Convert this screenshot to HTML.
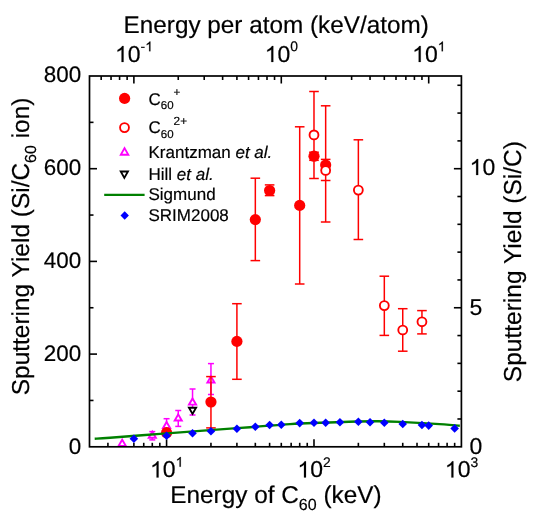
<!DOCTYPE html><html><head><meta charset="utf-8"><style>html,body{margin:0;padding:0;background:#fff;}svg{display:block;will-change:transform;}text{font-family:"Liberation Sans",sans-serif;text-rendering:geometricPrecision;stroke:#000;stroke-width:0.18px;stroke-linejoin:round;}</style></head><body>
<svg width="550" height="524" viewBox="0 0 550 524">
<rect width="550" height="524" fill="#fff"/>
<g stroke="#000" stroke-width="1.6" fill="none">
<line x1="107.92" y1="446.80" x2="107.92" y2="442.80"/>
<line x1="122.20" y1="446.80" x2="122.20" y2="442.80"/>
<line x1="133.88" y1="446.80" x2="133.88" y2="442.80"/>
<line x1="143.74" y1="446.80" x2="143.74" y2="442.80"/>
<line x1="152.29" y1="446.80" x2="152.29" y2="442.80"/>
<line x1="159.83" y1="446.80" x2="159.83" y2="442.80"/>
<line x1="166.58" y1="446.80" x2="166.58" y2="439.30"/>
<line x1="210.95" y1="446.80" x2="210.95" y2="442.80"/>
<line x1="236.91" y1="446.80" x2="236.91" y2="442.80"/>
<line x1="255.33" y1="446.80" x2="255.33" y2="442.80"/>
<line x1="269.61" y1="446.80" x2="269.61" y2="442.80"/>
<line x1="281.29" y1="446.80" x2="281.29" y2="442.80"/>
<line x1="291.15" y1="446.80" x2="291.15" y2="442.80"/>
<line x1="299.70" y1="446.80" x2="299.70" y2="442.80"/>
<line x1="307.24" y1="446.80" x2="307.24" y2="442.80"/>
<line x1="313.99" y1="446.80" x2="313.99" y2="439.30"/>
<line x1="358.36" y1="446.80" x2="358.36" y2="442.80"/>
<line x1="384.32" y1="446.80" x2="384.32" y2="442.80"/>
<line x1="402.74" y1="446.80" x2="402.74" y2="442.80"/>
<line x1="417.02" y1="446.80" x2="417.02" y2="442.80"/>
<line x1="428.70" y1="446.80" x2="428.70" y2="442.80"/>
<line x1="438.57" y1="446.80" x2="438.57" y2="442.80"/>
<line x1="447.11" y1="446.80" x2="447.11" y2="442.80"/>
<line x1="454.65" y1="446.80" x2="454.65" y2="442.80"/>
<line x1="101.17" y1="76.00" x2="101.17" y2="80.00"/>
<line x1="111.04" y1="76.00" x2="111.04" y2="80.00"/>
<line x1="119.59" y1="76.00" x2="119.59" y2="80.00"/>
<line x1="127.13" y1="76.00" x2="127.13" y2="80.00"/>
<line x1="133.88" y1="76.00" x2="133.88" y2="83.50"/>
<line x1="178.25" y1="76.00" x2="178.25" y2="80.00"/>
<line x1="204.21" y1="76.00" x2="204.21" y2="80.00"/>
<line x1="222.63" y1="76.00" x2="222.63" y2="80.00"/>
<line x1="236.91" y1="76.00" x2="236.91" y2="80.00"/>
<line x1="248.58" y1="76.00" x2="248.58" y2="80.00"/>
<line x1="258.45" y1="76.00" x2="258.45" y2="80.00"/>
<line x1="267.00" y1="76.00" x2="267.00" y2="80.00"/>
<line x1="274.54" y1="76.00" x2="274.54" y2="80.00"/>
<line x1="281.29" y1="76.00" x2="281.29" y2="83.50"/>
<line x1="325.66" y1="76.00" x2="325.66" y2="80.00"/>
<line x1="351.62" y1="76.00" x2="351.62" y2="80.00"/>
<line x1="370.04" y1="76.00" x2="370.04" y2="80.00"/>
<line x1="384.32" y1="76.00" x2="384.32" y2="80.00"/>
<line x1="395.99" y1="76.00" x2="395.99" y2="80.00"/>
<line x1="405.86" y1="76.00" x2="405.86" y2="80.00"/>
<line x1="414.41" y1="76.00" x2="414.41" y2="80.00"/>
<line x1="421.95" y1="76.00" x2="421.95" y2="80.00"/>
<line x1="428.70" y1="76.00" x2="428.70" y2="83.50"/>
<line x1="89.50" y1="400.45" x2="93.50" y2="400.45"/>
<line x1="89.50" y1="354.10" x2="97.00" y2="354.10"/>
<line x1="89.50" y1="307.75" x2="93.50" y2="307.75"/>
<line x1="89.50" y1="261.40" x2="97.00" y2="261.40"/>
<line x1="89.50" y1="215.05" x2="93.50" y2="215.05"/>
<line x1="89.50" y1="168.70" x2="97.00" y2="168.70"/>
<line x1="89.50" y1="122.35" x2="93.50" y2="122.35"/>
<line x1="461.40" y1="418.99" x2="457.40" y2="418.99"/>
<line x1="461.40" y1="391.18" x2="457.40" y2="391.18"/>
<line x1="461.40" y1="363.37" x2="457.40" y2="363.37"/>
<line x1="461.40" y1="335.56" x2="457.40" y2="335.56"/>
<line x1="461.40" y1="307.75" x2="453.90" y2="307.75"/>
<line x1="461.40" y1="279.94" x2="457.40" y2="279.94"/>
<line x1="461.40" y1="252.13" x2="457.40" y2="252.13"/>
<line x1="461.40" y1="224.32" x2="457.40" y2="224.32"/>
<line x1="461.40" y1="196.51" x2="457.40" y2="196.51"/>
<line x1="461.40" y1="168.70" x2="453.90" y2="168.70"/>
<line x1="461.40" y1="140.89" x2="457.40" y2="140.89"/>
<line x1="461.40" y1="113.08" x2="457.40" y2="113.08"/>
<line x1="461.40" y1="85.27" x2="457.40" y2="85.27"/>
</g>
<g stroke="#ff00ff" stroke-width="1.5" fill="none"><line x1="152.29" y1="431.60" x2="152.29" y2="439.90"/><line x1="149.29" y1="431.60" x2="155.29" y2="431.60"/><line x1="149.29" y1="439.90" x2="155.29" y2="439.90"/></g>
<g stroke="#ff00ff" stroke-width="1.5" fill="none"><line x1="166.58" y1="418.70" x2="166.58" y2="433.50"/><line x1="163.58" y1="418.70" x2="169.58" y2="418.70"/><line x1="163.58" y1="433.50" x2="169.58" y2="433.50"/></g>
<g stroke="#ff00ff" stroke-width="1.5" fill="none"><line x1="178.25" y1="410.50" x2="178.25" y2="426.40"/><line x1="175.25" y1="410.50" x2="181.25" y2="410.50"/><line x1="175.25" y1="426.40" x2="181.25" y2="426.40"/></g>
<g stroke="#ff00ff" stroke-width="1.5" fill="none"><line x1="192.54" y1="389.00" x2="192.54" y2="415.00"/><line x1="189.54" y1="389.00" x2="195.54" y2="389.00"/><line x1="189.54" y1="415.00" x2="195.54" y2="415.00"/></g>
<g stroke="#ff00ff" stroke-width="1.5" fill="none"><line x1="210.95" y1="363.60" x2="210.95" y2="394.50"/><line x1="207.95" y1="363.60" x2="213.95" y2="363.60"/><line x1="207.95" y1="394.50" x2="213.95" y2="394.50"/></g>
<path d="M122.20,439.70 L125.76,445.85 L118.65,445.85 Z" fill="#fff" stroke="#ff00ff" stroke-width="1.9" stroke-linejoin="miter"/>
<path d="M152.29,431.60 L155.85,437.75 L148.74,437.75 Z" fill="#fff" stroke="#ff00ff" stroke-width="1.9" stroke-linejoin="miter"/>
<path d="M166.58,422.00 L170.13,428.15 L163.02,428.15 Z" fill="#fff" stroke="#ff00ff" stroke-width="1.9" stroke-linejoin="miter"/>
<path d="M178.25,414.40 L181.80,420.55 L174.70,420.55 Z" fill="#fff" stroke="#ff00ff" stroke-width="1.9" stroke-linejoin="miter"/>
<path d="M192.54,398.50 L196.09,404.65 L188.98,404.65 Z" fill="#fff" stroke="#ff00ff" stroke-width="1.9" stroke-linejoin="miter"/>
<path d="M210.95,376.40 L214.51,382.55 L207.40,382.55 Z" fill="#fff" stroke="#ff00ff" stroke-width="1.9" stroke-linejoin="miter"/>
<path d="M192.54,413.90 L196.09,407.75 L188.98,407.75 Z" fill="#fff" stroke="#000" stroke-width="1.9" stroke-linejoin="miter"/>
<g stroke="#ff0000" stroke-width="1.5" fill="none"><line x1="210.95" y1="376.60" x2="210.95" y2="427.90"/><line x1="206.15" y1="376.60" x2="215.75" y2="376.60"/><line x1="206.15" y1="427.90" x2="215.75" y2="427.90"/></g>
<g stroke="#ff0000" stroke-width="1.5" fill="none"><line x1="236.91" y1="303.70" x2="236.91" y2="379.30"/><line x1="232.11" y1="303.70" x2="241.71" y2="303.70"/><line x1="232.11" y1="379.30" x2="241.71" y2="379.30"/></g>
<g stroke="#ff0000" stroke-width="1.5" fill="none"><line x1="255.33" y1="178.20" x2="255.33" y2="260.60"/><line x1="250.53" y1="178.20" x2="260.13" y2="178.20"/><line x1="250.53" y1="260.60" x2="260.13" y2="260.60"/></g>
<g stroke="#ff0000" stroke-width="1.5" fill="none"><line x1="269.61" y1="184.90" x2="269.61" y2="195.60"/><line x1="264.81" y1="184.90" x2="274.41" y2="184.90"/><line x1="264.81" y1="195.60" x2="274.41" y2="195.60"/></g>
<g stroke="#ff0000" stroke-width="1.5" fill="none"><line x1="299.70" y1="126.80" x2="299.70" y2="284.00"/><line x1="294.90" y1="126.80" x2="304.50" y2="126.80"/><line x1="294.90" y1="284.00" x2="304.50" y2="284.00"/></g>
<g stroke="#ff0000" stroke-width="1.5" fill="none"><line x1="313.99" y1="152.20" x2="313.99" y2="160.30"/><line x1="309.19" y1="152.20" x2="318.79" y2="152.20"/><line x1="309.19" y1="160.30" x2="318.79" y2="160.30"/></g>
<g stroke="#ff0000" stroke-width="1.5" fill="none"><line x1="325.66" y1="159.40" x2="325.66" y2="170.00"/><line x1="320.86" y1="159.40" x2="330.46" y2="159.40"/><line x1="320.86" y1="170.00" x2="330.46" y2="170.00"/></g>
<circle cx="166.58" cy="432.70" r="5.6" fill="#ff0000"/>
<circle cx="210.95" cy="402.00" r="5.6" fill="#ff0000"/>
<circle cx="236.91" cy="341.40" r="5.6" fill="#ff0000"/>
<circle cx="255.33" cy="219.60" r="5.6" fill="#ff0000"/>
<circle cx="269.61" cy="190.50" r="5.6" fill="#ff0000"/>
<circle cx="299.70" cy="205.40" r="5.6" fill="#ff0000"/>
<circle cx="313.99" cy="156.20" r="5.6" fill="#ff0000"/>
<circle cx="325.66" cy="165.00" r="5.6" fill="#ff0000"/>
<g stroke="#ff0000" stroke-width="1.5" fill="none"><line x1="313.99" y1="91.50" x2="313.99" y2="178.50"/><line x1="309.19" y1="91.50" x2="318.79" y2="91.50"/><line x1="309.19" y1="178.50" x2="318.79" y2="178.50"/></g>
<g stroke="#ff0000" stroke-width="1.5" fill="none"><line x1="325.66" y1="105.80" x2="325.66" y2="222.00"/><line x1="320.86" y1="105.80" x2="330.46" y2="105.80"/><line x1="320.86" y1="222.00" x2="330.46" y2="222.00"/></g>
<g stroke="#ff0000" stroke-width="1.5" fill="none"><line x1="358.36" y1="139.80" x2="358.36" y2="239.50"/><line x1="353.56" y1="139.80" x2="363.16" y2="139.80"/><line x1="353.56" y1="239.50" x2="363.16" y2="239.50"/></g>
<g stroke="#ff0000" stroke-width="1.5" fill="none"><line x1="384.32" y1="276.20" x2="384.32" y2="335.40"/><line x1="379.52" y1="276.20" x2="389.12" y2="276.20"/><line x1="379.52" y1="335.40" x2="389.12" y2="335.40"/></g>
<g stroke="#ff0000" stroke-width="1.5" fill="none"><line x1="402.74" y1="308.70" x2="402.74" y2="351.20"/><line x1="397.94" y1="308.70" x2="407.54" y2="308.70"/><line x1="397.94" y1="351.20" x2="407.54" y2="351.20"/></g>
<g stroke="#ff0000" stroke-width="1.5" fill="none"><line x1="421.95" y1="310.60" x2="421.95" y2="333.90"/><line x1="417.15" y1="310.60" x2="426.75" y2="310.60"/><line x1="417.15" y1="333.90" x2="426.75" y2="333.90"/></g>
<line x1="320.86" y1="180.50" x2="330.46" y2="180.50" stroke="#ff0000" stroke-width="1.5"/>
<circle cx="313.99" cy="134.90" r="4.45" fill="#fff" stroke="#ff0000" stroke-width="1.85"/>
<circle cx="325.66" cy="170.40" r="4.45" fill="#fff" stroke="#ff0000" stroke-width="1.85"/>
<circle cx="358.36" cy="190.10" r="4.45" fill="#fff" stroke="#ff0000" stroke-width="1.85"/>
<circle cx="384.32" cy="305.60" r="4.45" fill="#fff" stroke="#ff0000" stroke-width="1.85"/>
<circle cx="402.74" cy="330.00" r="4.45" fill="#fff" stroke="#ff0000" stroke-width="1.85"/>
<circle cx="421.95" cy="321.80" r="4.45" fill="#fff" stroke="#ff0000" stroke-width="1.85"/>
<path d="M94.70,438.70 C97.25,438.55 99.12,438.60 110.00,437.80 C120.88,437.00 143.33,435.18 160.00,433.90 C176.67,432.62 195.00,431.22 210.00,430.10 C225.00,428.98 236.67,428.20 250.00,427.20 C263.33,426.20 278.33,424.85 290.00,424.10 C301.67,423.35 310.17,423.10 320.00,422.70 C329.83,422.30 339.33,421.93 349.00,421.70 C358.67,421.47 369.50,421.27 378.00,421.30 C386.50,421.33 390.42,421.47 400.00,421.90 C409.58,422.33 425.53,423.27 435.50,423.90 C445.47,424.53 455.75,425.40 459.80,425.70" stroke="#008000" stroke-width="2.4" fill="none"/>
<path d="M133.88,434.50 L138.18,438.80 L133.88,443.10 L129.58,438.80 Z" fill="#0000ff"/>
<path d="M166.58,431.50 L170.88,435.80 L166.58,440.10 L162.28,435.80 Z" fill="#0000ff"/>
<path d="M192.54,428.90 L196.84,433.20 L192.54,437.50 L188.24,433.20 Z" fill="#0000ff"/>
<path d="M210.95,427.00 L215.25,431.30 L210.95,435.60 L206.65,431.30 Z" fill="#0000ff"/>
<path d="M236.91,424.40 L241.21,428.70 L236.91,433.00 L232.61,428.70 Z" fill="#0000ff"/>
<path d="M255.33,422.50 L259.63,426.80 L255.33,431.10 L251.03,426.80 Z" fill="#0000ff"/>
<path d="M269.61,420.70 L273.91,425.00 L269.61,429.30 L265.31,425.00 Z" fill="#0000ff"/>
<path d="M281.29,420.50 L285.59,424.80 L281.29,429.10 L276.99,424.80 Z" fill="#0000ff"/>
<path d="M299.70,418.80 L304.00,423.10 L299.70,427.40 L295.40,423.10 Z" fill="#0000ff"/>
<path d="M313.99,418.50 L318.29,422.80 L313.99,427.10 L309.69,422.80 Z" fill="#0000ff"/>
<path d="M325.66,418.40 L329.96,422.70 L325.66,427.00 L321.36,422.70 Z" fill="#0000ff"/>
<path d="M339.95,417.90 L344.25,422.20 L339.95,426.50 L335.65,422.20 Z" fill="#0000ff"/>
<path d="M358.36,417.40 L362.66,421.70 L358.36,426.00 L354.06,421.70 Z" fill="#0000ff"/>
<path d="M370.04,417.90 L374.34,422.20 L370.04,426.50 L365.74,422.20 Z" fill="#0000ff"/>
<path d="M384.32,418.40 L388.62,422.70 L384.32,427.00 L380.02,422.70 Z" fill="#0000ff"/>
<path d="M402.74,419.70 L407.04,424.00 L402.74,428.30 L398.44,424.00 Z" fill="#0000ff"/>
<path d="M421.95,420.70 L426.25,425.00 L421.95,429.30 L417.65,425.00 Z" fill="#0000ff"/>
<path d="M428.70,421.30 L433.00,425.60 L428.70,429.90 L424.40,425.60 Z" fill="#0000ff"/>
<path d="M454.65,424.10 L458.95,428.40 L454.65,432.70 L450.35,428.40 Z" fill="#0000ff"/>
<circle cx="124.60" cy="98.40" r="5.6" fill="#ff0000"/>
<circle cx="124.50" cy="127.60" r="4.45" fill="#fff" stroke="#ff0000" stroke-width="1.85"/>
<path d="M124.55,148.09 L128.32,154.77 L120.78,154.77 Z" fill="#fff" stroke="#ff00ff" stroke-width="1.85" stroke-linejoin="miter"/>
<path d="M124.35,177.92 L127.96,171.52 L120.74,171.52 Z" fill="#fff" stroke="#000" stroke-width="1.85" stroke-linejoin="miter"/>
<line x1="104.2" y1="194.9" x2="144.6" y2="194.9" stroke="#008000" stroke-width="2.3"/>
<path d="M124.70,211.30 L128.90,215.50 L124.70,219.70 L120.50,215.50 Z" fill="#0000ff"/>
<g font-size="17" fill="#000">
<text x="148.5" y="104.6">C<tspan font-size="11.5" dy="4.8">60</tspan><tspan font-size="11.6" dy="-13.4">+</tspan></text>
<text x="148.5" y="133">C<tspan font-size="11.5" dy="4.8">60</tspan><tspan font-size="11.8" dy="-12.9">2+</tspan></text>
<text x="148.5" y="158.2">Krantzman <tspan font-style="italic">et al.</tspan></text>
<text x="148.5" y="179.7">Hill <tspan font-style="italic">et al.</tspan></text>
<text x="148.5" y="200.2">Sigmund</text>
<text x="148.5" y="220.8">SRIM2008</text>
</g>
<rect x="89.5" y="76.0" width="371.90" height="370.80" fill="none" stroke="#000" stroke-width="1.7"/>
<g fill="#000">
<text transform="translate(68.64,453.80) scale(1,1.0)" font-size="22.4">0</text>
<text transform="translate(43.73,360.90) scale(1,1.0)" font-size="22.4">2</text><text transform="translate(56.18,360.90) scale(1,1.0)" font-size="22.4">0</text><text transform="translate(68.64,360.90) scale(1,1.0)" font-size="22.4">0</text>
<text transform="translate(43.73,268.10) scale(1,1.0)" font-size="22.4">4</text><text transform="translate(56.18,268.10) scale(1,1.0)" font-size="22.4">0</text><text transform="translate(68.64,268.10) scale(1,1.0)" font-size="22.4">0</text>
<text transform="translate(43.73,175.20) scale(1,1.0)" font-size="22.4">6</text><text transform="translate(56.18,175.20) scale(1,1.0)" font-size="22.4">0</text><text transform="translate(68.64,175.20) scale(1,1.0)" font-size="22.4">0</text>
<text transform="translate(43.73,82.40) scale(1,1.0)" font-size="22.4">8</text><text transform="translate(56.18,82.40) scale(1,1.0)" font-size="22.4">0</text><text transform="translate(68.64,82.40) scale(1,1.0)" font-size="22.4">0</text>
<text transform="translate(469.60,453.60) scale(1,1.0)" font-size="23.0">0</text>
<text transform="translate(469.60,314.60) scale(1,1.0)" font-size="23.0">5</text>
<path transform="translate(469.60,175.10) scale(0.01123,-0.01095)" d="M763,0 L583,0 L583,1147 Q518,1085 412,1023 Q307,961 223,930 L223,1104 Q374,1175 487,1276 Q600,1377 647,1466 L763,1466 Z" fill="#000" stroke="#000" stroke-width="16.0" stroke-linejoin="round"/><text transform="translate(482.39,175.10) scale(1,1.0)" font-size="23.0">0</text>
<path transform="translate(150.02,477.40) scale(0.01123,-0.01095)" d="M763,0 L583,0 L583,1147 Q518,1085 412,1023 Q307,961 223,930 L223,1104 Q374,1175 487,1276 Q600,1377 647,1466 L763,1466 Z" fill="#000" stroke="#000" stroke-width="16.0" stroke-linejoin="round"/><text transform="translate(162.81,477.40) scale(1,1.0)" font-size="23.0">0</text><path transform="translate(175.60,466.70) scale(0.00679,-0.00662)" d="M763,0 L583,0 L583,1147 Q518,1085 412,1023 Q307,961 223,930 L223,1104 Q374,1175 487,1276 Q600,1377 647,1466 L763,1466 Z" fill="#000" stroke="#000" stroke-width="26.5" stroke-linejoin="round"/>
<path transform="translate(297.43,477.40) scale(0.01123,-0.01095)" d="M763,0 L583,0 L583,1147 Q518,1085 412,1023 Q307,961 223,930 L223,1104 Q374,1175 487,1276 Q600,1377 647,1466 L763,1466 Z" fill="#000" stroke="#000" stroke-width="16.0" stroke-linejoin="round"/><text transform="translate(310.22,477.40) scale(1,1.0)" font-size="23.0">0</text><text transform="translate(323.02,466.70) scale(1,1.0)" font-size="13.9">2</text>
<path transform="translate(444.84,477.40) scale(0.01123,-0.01095)" d="M763,0 L583,0 L583,1147 Q518,1085 412,1023 Q307,961 223,930 L223,1104 Q374,1175 487,1276 Q600,1377 647,1466 L763,1466 Z" fill="#000" stroke="#000" stroke-width="16.0" stroke-linejoin="round"/><text transform="translate(457.63,477.40) scale(1,1.0)" font-size="23.0">0</text><text transform="translate(470.43,466.70) scale(1,1.0)" font-size="13.9">3</text>
<path transform="translate(115.00,62.00) scale(0.01123,-0.01095)" d="M763,0 L583,0 L583,1147 Q518,1085 412,1023 Q307,961 223,930 L223,1104 Q374,1175 487,1276 Q600,1377 647,1466 L763,1466 Z" fill="#000" stroke="#000" stroke-width="16.0" stroke-linejoin="round"/><text transform="translate(127.80,62.00) scale(1,1.0)" font-size="23.0">0</text><text transform="translate(140.59,51.30) scale(1,1.0)" font-size="13.9">-</text><path transform="translate(145.22,51.30) scale(0.00679,-0.00662)" d="M763,0 L583,0 L583,1147 Q518,1085 412,1023 Q307,961 223,930 L223,1104 Q374,1175 487,1276 Q600,1377 647,1466 L763,1466 Z" fill="#000" stroke="#000" stroke-width="26.5" stroke-linejoin="round"/>
<path transform="translate(264.73,62.00) scale(0.01123,-0.01095)" d="M763,0 L583,0 L583,1147 Q518,1085 412,1023 Q307,961 223,930 L223,1104 Q374,1175 487,1276 Q600,1377 647,1466 L763,1466 Z" fill="#000" stroke="#000" stroke-width="16.0" stroke-linejoin="round"/><text transform="translate(277.52,62.00) scale(1,1.0)" font-size="23.0">0</text><text transform="translate(290.31,51.30) scale(1,1.0)" font-size="13.9">0</text>
<path transform="translate(412.14,62.00) scale(0.01123,-0.01095)" d="M763,0 L583,0 L583,1147 Q518,1085 412,1023 Q307,961 223,930 L223,1104 Q374,1175 487,1276 Q600,1377 647,1466 L763,1466 Z" fill="#000" stroke="#000" stroke-width="16.0" stroke-linejoin="round"/><text transform="translate(424.93,62.00) scale(1,1.0)" font-size="23.0">0</text><path transform="translate(437.72,51.30) scale(0.00679,-0.00662)" d="M763,0 L583,0 L583,1147 Q518,1085 412,1023 Q307,961 223,930 L223,1104 Q374,1175 487,1276 Q600,1377 647,1466 L763,1466 Z" fill="#000" stroke="#000" stroke-width="26.5" stroke-linejoin="round"/>
</g>
<g font-size="24.3" fill="#000">
<text x="123.6" y="33">Energy per atom (keV/atom)</text>
<text x="170.3" y="503" font-size="24.35">Energy of C<tspan font-size="16" dy="7.2">60</tspan><tspan dy="-7.2"> (keV)</tspan></text>
<text font-size="24.45" transform="translate(29.2,395.2) rotate(-90)">Sputtering Yield (Si/C<tspan font-size="16" dy="6.7">60</tspan><tspan dy="-6.7"> ion)</tspan></text>
<text font-size="24.53" transform="translate(521.1,382.2) rotate(-90)">Sputtering Yield (Si/C)</text>
</g>
</svg></body></html>
